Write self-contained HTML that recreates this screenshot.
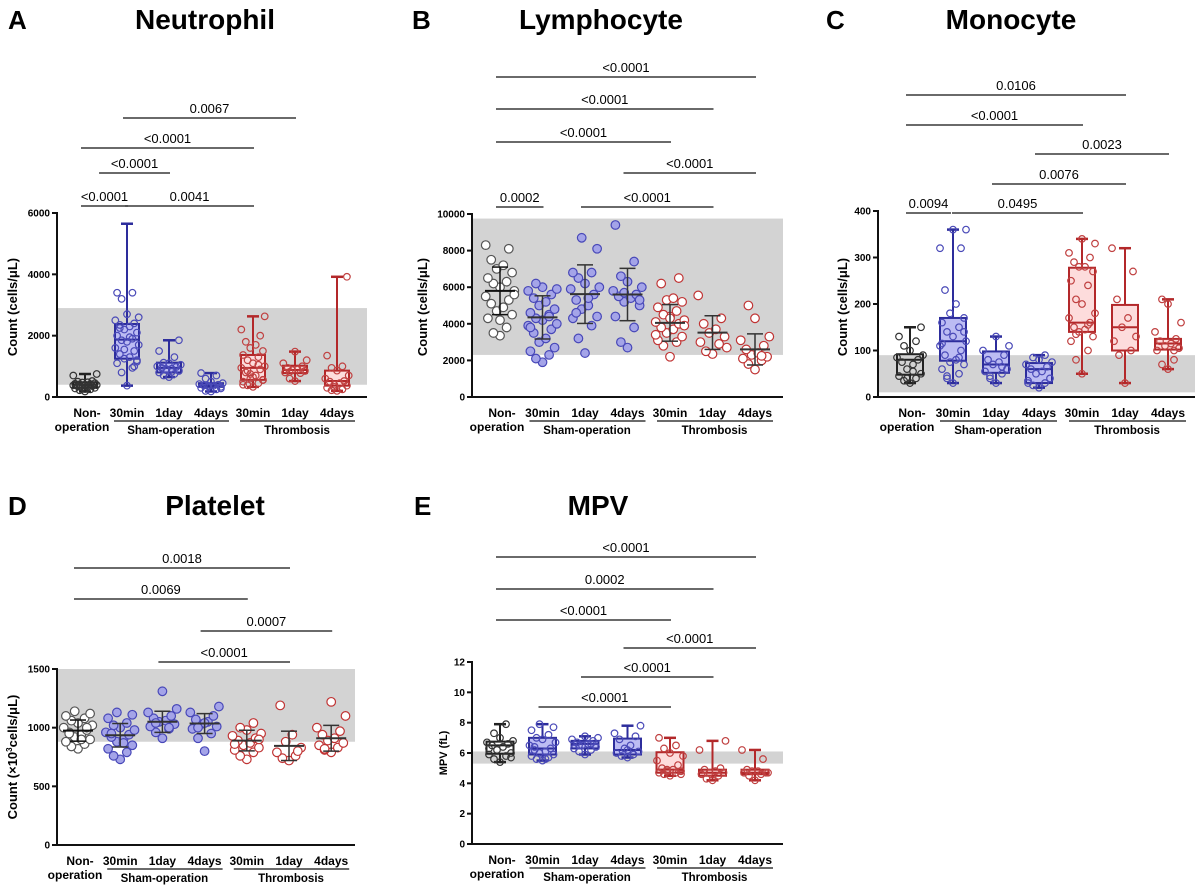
<!DOCTYPE html>
<html><head><meta charset="utf-8"><style>
html,body{margin:0;padding:0;background:#fff;}
svg{display:block;font-family:"Liberation Sans",Arial,sans-serif;}
</style></head><body>
<svg id="fig" width="1200" height="889" viewBox="0 0 1200 889">
<g font-weight="bold" font-size="26">
<text x="8" y="29">A</text>
<text x="412" y="29">B</text>
<text x="826" y="29">C</text>
<text x="8" y="515">D</text>
<text x="414" y="515">E</text>
</g>
<g font-weight="bold" font-size="28" text-anchor="middle">
<text x="205" y="29">Neutrophil</text>
<text x="601" y="29">Lymphocyte</text>
<text x="1011" y="29">Monocyte</text>
<text x="215" y="515">Platelet</text>
<text x="598" y="515">MPV</text>
</g>
</svg>
<script>
// ---------- data ----------
const categories = ["Non-operation","30min","1day","4days","30min","1day","4days"];
const groupNames = ["Sham-operation","Thrombosis"];
// A Neutrophil points
const neuPoints = [
[180,220,250,280,300,310,330,350,360,380,390,400,410,420,430,450,470,480,500,520,700,750,260,340,400],
[370,800,950,1100,1200,1250,1300,1400,1500,1600,1700,1800,1850,1900,2000,2100,2200,2300,2350,2400,2500,2600,2700,3200,3400,3400,1150,1550,1950,2250,1000],
[650,700,750,800,850,900,920,950,980,1000,1050,1100,1120,1300,1500,1850,880,820],
[180,200,250,300,330,350,370,380,400,420,450,500,600,700,780,280,360],
[330,380,450,500,560,600,700,800,900,950,1000,1100,1200,1300,1370,1500,1600,1700,1800,2000,2200,2630,650,850,1050,400,550,750],
[520,600,780,800,850,880,900,950,1000,1100,1200,1480,820],
[200,220,250,300,370,400,450,500,520,600,700,860,950,1000,1350,3920,330]];
// box stats: min,q1,median,q3,max
const neuBox = [[180,300,400,480,750],[370,1250,1870,2380,5650],[650,800,950,1120,1850],[180,330,380,450,780],[330,560,950,1370,2630],[520,780,880,1020,1480],[200,370,520,860,3920]];
const neuTicks = [0,2000,4000,6000];
const neuRef = [400,2900];
// B Lymphocyte
const lymPoints = [
[3350,3500,3800,4300,4500,4700,4900,5100,5300,5500,5800,6000,6200,6300,6500,6800,7000,7200,7500,8100,8300,5600,4200],
[1900,2100,2300,2500,2700,3000,3200,3500,3700,3900,4000,4200,4300,4500,4600,4800,5000,5200,5400,5600,5800,5900,6000,6200,4400,3800],
[2400,3200,3900,4300,4400,4800,5000,5300,5600,5900,6000,6200,6500,6800,6800,8100,8700,5400,4600],
[2700,3000,3800,4400,5000,5200,5400,5500,5600,5800,6000,6300,6600,7400,9400,5300,5700],
[2200,2800,3000,3100,3300,3500,3700,3800,4000,4100,4200,4400,4500,4700,4900,5200,5300,5400,6200,6500,3400,3900,4300],
[2350,2500,2900,3000,3300,3500,3700,4000,4300,5550,2700],
[1500,1800,2000,2100,2200,2300,2400,2600,2800,3100,3300,4300,5000,2250]];
const lymMean = [5800,4350,5620,5600,4050,3520,2600];
const lymSD = [1300,1180,1600,1430,1000,920,850];
const lymTicks = [0,2000,4000,6000,8000,10000];
const lymRef = [2300,9750];
// C Monocyte
const monPoints = [
[30,35,40,45,50,60,70,75,80,85,90,100,110,120,130,150,40,55],
[30,40,50,60,70,75,80,90,100,110,120,130,140,150,160,170,180,200,230,320,320,360,360,45,85,115,140],
[30,40,50,55,60,70,75,80,90,100,110,130,45,65],
[20,25,30,35,40,50,55,60,65,70,75,80,85,90,30],
[50,80,100,120,130,140,145,150,160,170,180,200,210,240,250,270,280,280,290,300,310,330,340,135,155],
[30,90,100,120,130,150,170,210,270,320],
[60,70,80,100,105,110,115,120,125,140,160,200,210,100]];
const monBox = [[30,48,80,92,150],[30,78,120,170,360],[30,52,70,98,130],[20,30,60,73,90],[50,140,160,278,340],[30,100,150,198,320],[60,102,115,125,210]];
const monTicks = [0,100,200,300,400];
const monRef = [10,90];
// D Platelet
const pltPoints = [
[820,840,860,880,900,920,940,960,980,1000,1020,1040,1060,1080,1100,1120,1140,900,950,1000],
[730,760,790,820,850,880,900,920,940,960,980,1000,1020,1040,1080,1110,1130,870,950],
[910,960,990,1010,1030,1050,1060,1080,1100,1130,1160,1310,1040,1000],
[800,910,950,990,1010,1030,1050,1070,1100,1130,1180,1040,1000],
[730,760,790,810,830,850,870,890,910,930,950,980,1000,1040,860,900],
[720,740,760,790,830,880,940,1190,800],
[790,810,830,850,870,890,910,940,970,1000,1100,1220,820]];
const pltMean = [975,935,1050,1035,890,845,910];
const pltSD = [90,100,90,85,88,125,110];
const pltTicks = [0,500,1000,1500];
const pltRef = [880,1500];
// E MPV
const mpvPoints = [
[5.4,5.6,5.8,5.9,6.0,6.2,6.4,6.5,6.6,6.7,6.8,7.0,7.3,7.9,6.3,5.7],
[5.5,5.6,5.7,5.8,5.9,6.0,6.1,6.2,6.3,6.5,6.7,6.9,7.0,7.2,7.5,7.7,7.9,5.6,6.4],
[5.9,6.1,6.2,6.3,6.4,6.5,6.6,6.7,6.8,6.9,7.0,7.1,6.5,6.6],
[5.7,5.8,5.9,6.0,6.1,6.3,6.5,6.9,7.1,7.3,7.8,6.2],
[4.5,4.6,4.7,4.7,4.8,4.8,4.9,5.0,5.2,5.5,5.8,6.0,6.3,6.5,7.0,4.6,4.9],
[4.2,4.3,4.5,4.6,4.7,4.7,4.8,4.9,5.0,6.2,6.8],
[4.2,4.5,4.6,4.7,4.7,4.8,4.8,4.9,5.6,6.2,4.7]];
const mpvBox = [[5.4,5.95,6.5,6.75,7.9],[5.5,5.9,6.3,7.0,7.9],[5.9,6.3,6.6,6.8,7.1],[5.7,5.9,6.2,6.95,7.8],[4.5,4.7,4.9,6.05,7.0],[4.2,4.5,4.7,4.9,6.8],[4.2,4.6,4.7,4.9,6.2]];
const mpvTicks = [0,2,4,6,8,10,12];
const mpvRef = [5.3,6.1];
// significance brackets: [fromCat, toCat, lineY(px), label]
const neuSig = [[1,5,118,"0.0067"],[0,4,148,"<0.0001"],[0.43,2,173,"<0.0001"],[0,1,206,"<0.0001"],[1.05,4,206,"0.0041"]];
const lymSig = [[0,6,77,"<0.0001"],[0,5,109,"<0.0001"],[0,4,142,"<0.0001"],[3,6,173,"<0.0001"],[2,5,207,"<0.0001"],[0,1,207,"0.0002"]];
const monSig = [[0,5,95,"0.0106"],[0,4,125,"<0.0001"],[3,6,154,"0.0023"],[2,5,184,"0.0076"],[0,0.93,213,"0.0094"],[1.07,4,213,"0.0495"]];
const pltSig = [[0,5,568,"0.0018"],[0,4,599,"0.0069"],[3,6,631,"0.0007"],[2,5,662,"<0.0001"]];
const mpvSig = [[0,6,557,"<0.0001"],[0,5,589,"0.0002"],[0,4,620,"<0.0001"],[3,6,648,"<0.0001"],[2,5,677,"<0.0001"],[1,4,707,"<0.0001"]];

// ---------- rendering ----------
const NS="http://www.w3.org/2000/svg";
const svg=document.getElementById('fig');
function mk(tag,attrs,parent){const e=document.createElementNS(NS,tag);for(const k in attrs)e.setAttribute(k,attrs[k]);(parent||svg).appendChild(e);return e;}
const COL={black:{s:"#222",f:"none"},blue:{s:"#2d2d9c",f:"#bcbcf3"},red:{s:"#b3282a",f:"#fddcdc"}};
function colorOf(i){return i===0?"black":(i<=3?"blue":"red");}
const jit=[0,-6,6,-11,11,-3,3,-8,8,-13,13];

function panel(cfg){
  const g=mk('g',{});
  
  
  const y=v=>cfg.yB-(v/cfg.ymax)*(cfg.yB-cfg.yT);
  const x=i=>cfg.c0+i*cfg.step;
  // reference band
  const band=mk('rect',{x:cfg.ax,y:y(cfg.ref[1]),width:cfg.ax1-cfg.ax,height:y(cfg.ref[0])-y(cfg.ref[1]),fill:"#d3d3d3"},g);
  
  
  // series
  for(let i=0;i<7;i++){
    const c=COL[colorOf(i)];
    const sg=mk('g',{},g);
    
    
    const cx=x(i);
    if(cfg.box){
      const b=cfg.box[i], bw=cfg.bw/2, cw=6;
      mk('rect',{x:cx-bw,y:y(b[3]),width:2*bw,height:y(b[1])-y(b[3]),fill:c.f,stroke:c.s,'stroke-width':2},sg);
      mk('line',{x1:cx-bw,x2:cx+bw,y1:y(b[2]),y2:y(b[2]),stroke:c.s,'stroke-width':2},sg);
      mk('line',{x1:cx,x2:cx,y1:y(b[4]),y2:y(b[3]),stroke:c.s,'stroke-width':2},sg);
      mk('line',{x1:cx,x2:cx,y1:y(b[1]),y2:y(b[0]),stroke:c.s,'stroke-width':2},sg);
      mk('line',{x1:cx-cw,x2:cx+cw,y1:y(b[4]),y2:y(b[4]),stroke:c.s,'stroke-width':2.5},sg);
      mk('line',{x1:cx-cw,x2:cx+cw,y1:y(b[0]),y2:y(b[0]),stroke:c.s,'stroke-width':2.5},sg);
    }
    const pts=cfg.pts[i];
    const sorted=pts.map((v,k)=>[v,k]);
    pts.forEach((v,k)=>{
      let fill="none",stroke=c.s,r=3.3;
      if(!cfg.box){r=4.3; if(i===0){fill="#fff";stroke="#555";} else if(i<=3){fill="#a4a4e8";stroke="#4848b8";} else {fill="#fff";stroke="#c03434";}}
      else {stroke=i===0?"#333":(i<=3?"#4a4ab8":"#c04040");}
      const p=mk('circle',{cx:cx+jit[k%jit.length]*cfg.js,cy:y(v),r:r,fill:fill,stroke:stroke,'stroke-width':1.2},sg);
      
      
    });
    if(cfg.mean){
      const m=cfg.mean[i],s=cfg.sd[i],lc=i===0?"#111":"#333";
      mk('line',{x1:cx-15,x2:cx+15,y1:y(m),y2:y(m),stroke:lc,'stroke-width':2},sg);
      mk('line',{x1:cx,x2:cx,y1:y(m+s),y2:y(m-s),stroke:lc,'stroke-width':1.5},sg);
      mk('line',{x1:cx-8,x2:cx+8,y1:y(m+s),y2:y(m+s),stroke:lc,'stroke-width':1.5},sg);
      mk('line',{x1:cx-8,x2:cx+8,y1:y(m-s),y2:y(m-s),stroke:lc,'stroke-width':1.5},sg);
    }
  }
  // axes
  const ya=mk('g',{},g);
  
  
  mk('line',{x1:cfg.ax,x2:cfg.ax,y1:cfg.yT-1,y2:cfg.yB+1,stroke:"#111",'stroke-width':2},ya);
  cfg.ticks.forEach(t=>{
    mk('line',{x1:cfg.ax-5,x2:cfg.ax,y1:y(t),y2:y(t),stroke:"#111",'stroke-width':2},ya);
    const tl=mk('text',{x:cfg.ax-7,y:y(t)+3.5,'text-anchor':'end','font-size':10,'font-weight':'bold'},ya);
    tl.textContent=t;
    
    
  });
  const xa=mk('line',{x1:cfg.ax,x2:cfg.ax1,y1:cfg.yB,y2:cfg.yB,stroke:"#111",'stroke-width':2},g);
  
  
  const yt=mk('text',{transform:`translate(${cfg.ytx},${cfg.yty}) rotate(-90)`,'text-anchor':'middle','font-size':cfg.ytfs||13,'font-weight':'bold'},g);
  yt.innerHTML=cfg.ytitle;
  
  
  // category labels
  const lb=cfg.yB+20;
  categories.forEach((cName,i)=>{
    if(i===0){
      const t1=mk('text',{x:x(0)+2,y:lb,'text-anchor':'middle','font-size':12,'font-weight':'bold'},g);t1.textContent="Non-";
      
      
      const t2=mk('text',{x:x(0)-3,y:lb+14,'text-anchor':'middle','font-size':12,'font-weight':'bold'},g);t2.textContent="operation";
      
      
    } else {
      const t=mk('text',{x:x(i),y:lb,'text-anchor':'middle','font-size':12,'font-weight':'bold'},g);t.textContent=cName;
      
      
    }
  });
  [[1,3,groupNames[0]],[4,6,groupNames[1]]].forEach(([a,b,n])=>{
    mk('line',{x1:x(a)-13,x2:x(b)+18,y1:lb+4,y2:lb+4,stroke:"#111",'stroke-width':1.3},g);
    const t=mk('text',{x:(x(a)+x(b))/2+2,y:lb+17,'text-anchor':'middle','font-size':11.5,'font-weight':'bold'},g);t.textContent=n;
    
    
  });
  // significance
  cfg.sig.forEach(s=>{
    const sg=mk('g',{},g);
    
    
    const x1=x(s[0])-4,x2=x(s[1])+1;
    mk('line',{x1:x1,x2:x2,y1:s[2],y2:s[2],stroke:"#111",'stroke-width':1.3},sg);
    const t=mk('text',{x:(x1+x2)/2,y:s[2]-5,'text-anchor':'middle','font-size':13},sg);t.textContent=s[3];
  });
}
panel({name:'neutrophil',ax:57,ax1:367,yT:213,yB:397,ymax:6000,ticks:neuTicks,ref:neuRef,c0:85,step:42,pts:neuPoints,box:neuBox,bw:24,js:0.9,sig:neuSig,ytitle:'Count (cells/μL)',ytx:17,yty:307});
panel({name:'lymphocyte',ax:472,ax1:783,yT:214,yB:397,ymax:10000,ticks:lymTicks,ref:lymRef,c0:500,step:42.5,pts:lymPoints,mean:lymMean,sd:lymSD,js:1.1,sig:lymSig,ytitle:'Count (cells/μL)',ytx:427,yty:307});
panel({name:'monocyte',ax:878,ax1:1195,yT:211,yB:397,ymax:400,ticks:monTicks,ref:monRef,c0:910,step:43,pts:monPoints,box:monBox,bw:26,js:1,sig:monSig,ytitle:'Count (cells/μL)',ytx:847,yty:307});
panel({name:'platelet',ax:57,ax1:355,yT:669,yB:845,ymax:1500,ticks:pltTicks,ref:pltRef,c0:78,step:42.2,pts:pltPoints,mean:pltMean,sd:pltSD,js:1.1,sig:pltSig,ytitle:'Count (×10<tspan font-size="8" dy="-5">3</tspan><tspan dy="5">cells/μL)</tspan>',ytx:17,yty:757});
panel({name:'mpv',ax:472,ax1:783,yT:662,yB:844,ymax:12,ticks:mpvTicks,ref:mpvRef,c0:500,step:42.5,pts:mpvPoints,box:mpvBox,bw:27,js:1,sig:mpvSig,ytitle:'MPV (fL)',ytfs:11,ytx:447,yty:753});
</script>
</body></html>
